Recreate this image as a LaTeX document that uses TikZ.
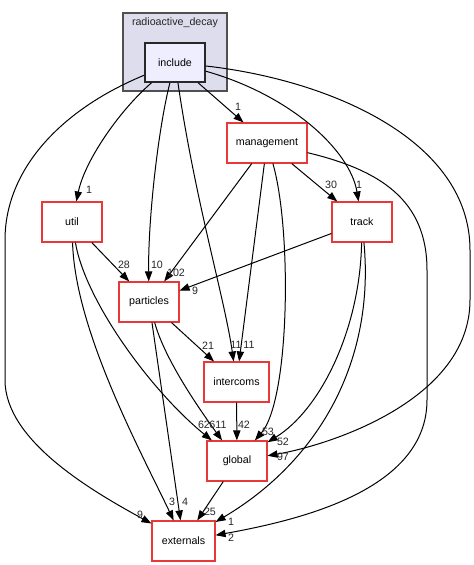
\documentclass[tikz,border=0pt]{standalone}
\usepackage{fontspec}
\setmainfont{Liberation Sans}
\usetikzlibrary{arrows.meta}

\definecolor{clusterfill}{RGB}{221,221,238}
\definecolor{incfill}{RGB}{238,238,255}
\definecolor{dirred}{RGB}{232,56,56}

\tikzset{every picture/.style={line width=0.75pt}}
\tikzset{
	dirnode/.style={draw=dirred, line width=0.85pt, fill=white, minimum width=45pt, minimum height=30pt, inner sep=0pt, font=\fontsize{8}{9.6}\selectfont},
	edge/.style={-{Triangle[length=7.5pt,width=5.5pt]}, line width=0.75pt},
	lbl/.style={inner sep=0pt, font=\fontsize{8}{9.6}\selectfont, text=black!85}
}

\begin{document}
\begin{tikzpicture}[x=0.75pt,y=0.75pt,yscale=-1,xscale=1]
	\useasboundingbox (0,0) rectangle (474,565);

	%Shape: Cluster radioactive_decay
	\draw [draw={rgb, 255:red, 80; green, 80; blue, 80 }, line width=1.1pt, fill=clusterfill] (123,13) rectangle (227,91) ;
	\node [lbl] (clusterlabel) at (175,23) {radioactive\_decay};

	% Nodes
	\node [dirnode, draw={rgb, 255:red, 40; green, 40; blue, 40 }, line width=1.3pt, fill=incfill, minimum height=29.25pt] (include) at (175,62.5) {include};
	\node [dirnode, minimum width=60pt] (management) at (267,143) {management};
	\node [dirnode] (util) at (72,222) {util};
	\node [dirnode] (track) at (362,222) {track};
	\node [dirnode] (particles) at (149,302) {particles};
	\node [dirnode, minimum width=48.75pt] (intercoms) at (236.5,382) {intercoms};
	\node [dirnode] (global) at (237,461) {global};
	\node [dirnode, minimum width=47.25pt] (externals) at (183.5,541) {externals};

	%Edges from include
	\draw [edge] (include) .. controls (60,110) and (5,170) .. (5,240) -- (5,380) .. controls (5,440) and (90,490) .. (externals) ;
	\draw [edge] (include) .. controls (120,110) and (85,160) .. (util) ;
	\draw [edge] (include) .. controls (158,130) and (148,220) .. (particles) ;
	\draw [edge] (include) .. controls (195,200) and (225,300) .. (intercoms) ;
	\draw [edge] (include) -- (management) ;
	\draw [edge] (include) .. controls (290,95) and (350,150) .. (track) ;
	\draw [edge] (include) .. controls (330,80) and (470,140) .. (470,250) -- (470,300) .. controls (470,400) and (330,445) .. (global) ;

	%Edges from management
	\draw [edge] (management) -- (particles) ;
	\draw [edge] (management) -- (intercoms) ;
	\draw [edge] (management) .. controls (292,230) and (290,400) .. (global) ;
	\draw [edge] (management) -- (track) ;
	\draw [edge] (management) .. controls (380,170) and (427,200) .. (427,270) -- (427,400) .. controls (427,490) and (300,520) .. (externals) ;

	%Edges from util
	\draw [edge] (util) -- (particles) ;
	\draw [edge] (util) .. controls (85,300) and (150,390) .. (global) ;
	\draw [edge] (util) .. controls (75,330) and (140,450) .. (externals) ;

	%Edges from track
	\draw [edge] (track) -- (particles) ;
	\draw [edge] (track) .. controls (360,330) and (320,410) .. (global) ;
	\draw [edge] (track) .. controls (375,360) and (320,460) .. (externals) ;

	%Edges from particles, intercoms, global
	\draw [edge] (particles) -- (intercoms) ;
	\draw [edge] (particles) .. controls (165,360) and (200,410) .. (global) ;
	\draw [edge] (particles) -- (externals) ;
	\draw [edge] (intercoms) -- (global) ;
	\draw [edge] (global) -- (externals) ;

	% Text Node
	\node [lbl] (l-inc-man) at (238,107) {1};
	\node [lbl] (l-inc-util) at (89,190) {1};
	\node [lbl] (l-inc-part) at (157,265) {10};
	\node [lbl] (l-inc-int) at (236,345) {11};
	\node [lbl] (l-man-int) at (249,345) {11};
	\node [lbl] (l-inc-track) at (359,185) {1};
	\node [lbl] (l-man-track) at (331,185) {30};
	\node [lbl] (l-man-part) at (176,273) {102};
	\node [lbl] (l-track-part) at (195,291) {9};
	\node [lbl] (l-util-part) at (124,265) {28};
	\node [lbl] (l-part-int) at (208,346) {21};
	\node [lbl] (l-util-glob) at (204,425) {62};
	\node [lbl] (l-part-glob) at (218,425) {611};
	\node [lbl] (l-int-glob) at (244,425) {42};
	\node [lbl] (l-man-glob) at (268,432) {53};
	\node [lbl] (l-track-glob) at (283,442) {52};
	\node [lbl] (l-inc-glob) at (283,457) {97};
	\node [lbl] (l-glob-ext) at (210,512) {25};
	\node [lbl] (l-util-ext) at (172,502) {3};
	\node [lbl] (l-part-ext) at (185,502) {4};
	\node [lbl] (l-inc-ext) at (140,515) {9};
	\node [lbl] (l-track-ext) at (231,522) {1};
	\node [lbl] (l-man-ext) at (231,538) {2};

\end{tikzpicture}
\end{document}
